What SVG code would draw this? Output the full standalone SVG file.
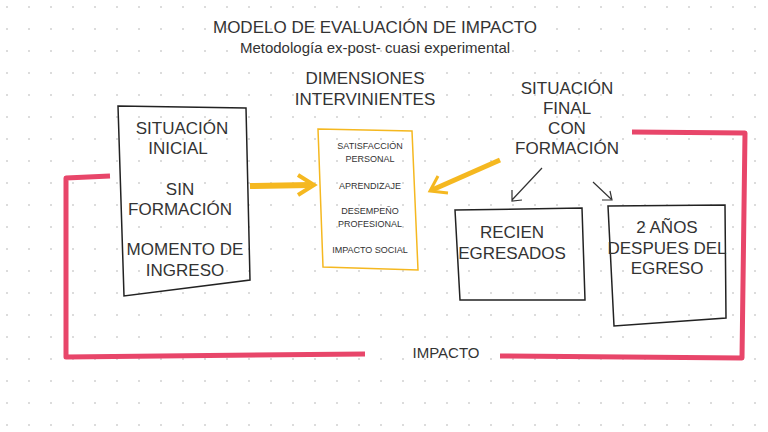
<svg xmlns="http://www.w3.org/2000/svg" width="768" height="432" viewBox="0 0 768 432">
<defs>
<pattern id="dots" width="22" height="22" patternUnits="userSpaceOnUse" x="6" y="6"><circle cx="1" cy="1" r="1" fill="#d0d0d0"/></pattern>
<style>
text{font-family:"Liberation Sans",Arial,sans-serif;fill:#333;text-anchor:middle}
.big{font-size:17px}.sm{font-size:9px}
.box{fill:none;stroke:#222;stroke-width:1.5}
.thin{fill:none;stroke:#333;stroke-width:1.2}
</style>
</defs>
<rect width="768" height="432" fill="#fff"/>
<rect width="768" height="432" fill="url(#dots)"/>
<g id="title">
<text x="375" y="33" class="big">MODELO DE EVALUACIÓN DE IMPACTO</text>
<text x="375" y="53" style="font-size:15px">Metodología ex-post- cuasi experimental</text>
</g>
<g id="connectors">
<path d="M110 176 L66 178 L66 357 L365 354 M500 356 L742 358 L745 133 L632 132" fill="none" stroke="#e8466a" stroke-width="5" stroke-linejoin="round"/>
<path d="M250 186 L310 185" stroke="#f5b820" stroke-width="6" fill="none"/>
<path d="M298 175 L314 185 L298 195" stroke="#f5b820" stroke-width="4" fill="none"/>
<path d="M500 160 L432 190" stroke="#f5b820" stroke-width="5" fill="none"/>
<path d="M438 176 L430 191 L448 193" stroke="#f5b820" stroke-width="3" fill="none"/>
<path d="M542 168 L512 200 M512 190 L512 201 L522 200" class="thin"/>
<path d="M593 182 L611 199 M602 200 L612 200 L610 191" class="thin"/>
</g>
<g id="n1">
<path d="M118 106 L246 108 L250 280 L124 296 Z" class="box"/>
<text x="182" y="134" class="big">SITUACIÓN</text>
<text x="178" y="154" class="big">INICIAL</text>
<text x="180" y="195" class="big">SIN</text>
<text x="180" y="215" class="big">FORMACIÓN</text>
<text x="185" y="255" class="big">MOMENTO DE</text>
<text x="185" y="276" class="big">INGRESO</text>
</g>
<g id="dim-label">
<text x="365" y="84" class="big">DIMENSIONES</text>
<text x="365" y="105" class="big">INTERVINIENTES</text>
</g>
<g id="n2">
<path d="M318 129 L412 131 L418 270 L323 267 Z" fill="none" stroke="#f5b820" stroke-width="1.5"/>
<text x="370" y="149" class="sm">SATISFACCIÓN</text>
<text x="370" y="162" class="sm">PERSONAL</text>
<text x="370" y="189" class="sm">APRENDIZAJE</text>
<text x="370" y="214" class="sm">DESEMPEÑO</text>
<text x="370" y="227" class="sm">PROFESIONAL</text>
<text x="370" y="253" class="sm">IMPACTO SOCIAL</text>
</g>
<g id="n3">
<text x="567" y="94" class="big">SITUACIÓN</text>
<text x="567" y="114" class="big">FINAL</text>
<text x="567" y="134" class="big">CON</text>
<text x="567" y="154" class="big">FORMACIÓN</text>
</g>
<g id="n4">
<path d="M455 210 L582 208 L585 300 L460 300 Z" class="box"/>
<text x="512" y="238" class="big">RECIEN</text>
<text x="512" y="259" class="big">EGRESADOS</text>
</g>
<g id="n5">
<path d="M608 206 L725 205 L726 318 L614 326 Z" class="box"/>
<text x="667" y="233" class="big">2 AÑOS</text>
<text x="667" y="254" class="big">DESPUES DEL</text>
<text x="667" y="274" class="big">EGRESO</text>
</g>
<text x="446" y="358" style="font-size:15px">IMPACTO</text>
</svg>
